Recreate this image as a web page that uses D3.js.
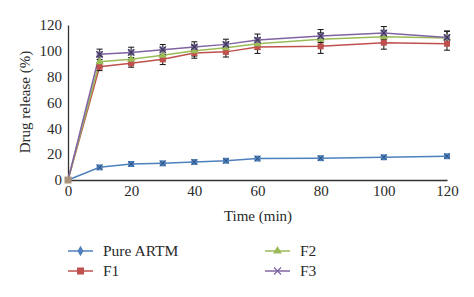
<!DOCTYPE html>
<html>
<head>
<meta charset="utf-8">
<script src="https://cdn.jsdelivr.net/npm/d3@7"></script>
<style>
  body { margin: 0; background: #fff; }
</style>
</head>
<body>
<script>
// Width and Height
const w = 474;
const h = 297;
const serif = "'Liberation Serif', 'Times New Roman', serif";

// data
const times = [0, 10, 20, 30, 40, 50, 60, 80, 100, 120];
const seriesNames = ["Pure ARTM", "F1", "F2", "F3"];
const pureArtm = [0, 9.8, 12.4, 12.9, 13.9, 14.9, 16.6, 16.9, 17.6, 18.4];
const f1 = [0, 87.7, 90.3, 93.4, 98.3, 99.2, 103, 103.5, 106.3, 105.5];
const f2 = [0, 91.5, 93.5, 96.5, 100, 102.3, 105.5, 108.9, 110.9, 110];
const f3 = [0, 97.3, 98.8, 100.9, 103, 105, 108.4, 111.5, 113.8, 110.4];
const errF1 = [0, 3, 3, 4, 4, 4, 5, 5.5, 5, 5];
const errF2 = [0, 4, 4, 4, 4, 4, 4.5, 5, 5, 5];
const errF3 = [0, 4, 4, 4, 4, 4, 4.6, 5, 5, 5];
const yTicks = [0, 20, 40, 60, 80, 100, 120];
const xTicks = [0, 20, 40, 60, 80, 100, 120];

const colors = ["#4F81BD", "#C0504D", "#9BBB59", "#8064A2"];

const series = [
  { name: seriesNames[0], values: pureArtm, err: null },
  { name: seriesNames[1], values: f1, err: errF1 },
  { name: seriesNames[2], values: f2, err: errF2 },
  { name: seriesNames[3], values: f3, err: errF3 }
];

// scales
const x = d3.scaleLinear().domain([0, 120]).range([68, 447]);
const y = d3.scaleLinear().domain([0, 120]).range([180, 25]);

const svg = d3.select("body").append("svg")
  .attr("width", w)
  .attr("height", h);

// axes
const yAxis = svg.append("g")
  .attr("transform", "translate(68,0)")
  .call(d3.axisLeft(y).tickValues(yTicks).tickSize(0).tickPadding(6))
  .attr("font-family", serif).attr("font-size", 15);
yAxis.select(".domain").attr("stroke", "#333").attr("stroke-width", 1.3);
yAxis.selectAll("text").style("font-family", serif).style("font-size", "15px").attr("fill", "#2a2a2a");

const xAxis = svg.append("g")
  .attr("transform", "translate(0,180)")
  .call(d3.axisBottom(x).tickValues(xTicks).tickSize(0).tickPadding(5))
  .attr("font-family", serif).attr("font-size", 15);
xAxis.select(".domain").attr("stroke", "#333").attr("stroke-width", 1.3);
xAxis.selectAll("text").style("font-family", serif).style("font-size", "15px").attr("fill", "#2a2a2a");

// axis titles
svg.append("text")
  .attr("x", 258).attr("y", 221)
  .attr("text-anchor", "middle")
  .style("font-family", serif).style("font-size", "15px").attr("fill", "#2a2a2a")
  .text("Time (min)");

svg.append("text")
  .attr("transform", "translate(30,102) rotate(-90)")
  .attr("text-anchor", "middle")
  .style("font-family", serif).style("font-size", "15px").attr("fill", "#2a2a2a")
  .text("Drug release (%)");

const line = d3.line()
  .x((d, i) => x(times[i]))
  .y(d => y(d));

// lines
series.forEach((s, k) => {
  svg.append("path")
    .datum(s.values)
    .attr("fill", "none")
    .attr("stroke", colors[k])
    .attr("stroke-width", 1.5)
    .attr("d", line);
});

// error bars
series.forEach((s, k) => {
  if (!s.err) return;
  const g = svg.append("g").attr("stroke", "#222").attr("stroke-width", 1.1);
  s.values.forEach((v, i) => {
    if (s.err[i] === 0) return;
    const cx = x(times[i]);
    const y1 = y(v + s.err[i]);
    const y2 = y(v - s.err[i]);
    g.append("line").attr("x1", cx).attr("x2", cx).attr("y1", y1).attr("y2", y2);
    g.append("line").attr("x1", cx - 3).attr("x2", cx + 3).attr("y1", y1).attr("y2", y1);
    g.append("line").attr("x1", cx - 3).attr("x2", cx + 3).attr("y1", y2).attr("y2", y2);
  });
});

// markers
function marker(g, k, cx, cy) {
  if (k === 0) {
    g.append("rect").attr("x", cx - 3).attr("y", cy - 3).attr("width", 6).attr("height", 6)
      .attr("fill", colors[0]);
    g.append("path").attr("d", d3.symbol().type(d3.symbolX).size(22)())
      .attr("transform", "translate(" + cx + "," + cy + ")")
      .attr("stroke", "#2c4f7c").attr("stroke-width", 1).attr("fill", "none");
  } else if (k === 1) {
    g.append("rect").attr("x", cx - 3).attr("y", cy - 3).attr("width", 6).attr("height", 6)
      .attr("fill", colors[1]);
  } else if (k === 2) {
    g.append("path").attr("d", d3.symbol().type(d3.symbolTriangle).size(30)())
      .attr("transform", "translate(" + cx + "," + cy + ")")
      .attr("fill", colors[2]);
  } else {
    g.append("rect").attr("x", cx - 3).attr("y", cy - 3).attr("width", 6).attr("height", 6)
      .attr("fill", "#7d6f9c").attr("opacity", 0.8);
    g.append("path").attr("d", d3.symbol().type(d3.symbolX).size(28)())
      .attr("transform", "translate(" + cx + "," + cy + ")")
      .attr("stroke", "#3d3560").attr("stroke-width", 1.2).attr("fill", "none");
  }
}

series.forEach((s, k) => {
  const g = svg.append("g");
  s.values.forEach((v, i) => {
    if (i === 0) return;
    marker(g, k, x(times[i]), y(v));
  });
});

// origin marker (all series overlap at 0)
svg.append("rect")
  .attr("x", x(0) - 3.5).attr("y", y(0) - 3.5).attr("width", 7).attr("height", 7)
  .attr("fill", "#a8927a");

// legend
const legendPos = [[68, 251], [68, 271], [265, 251], [265, 271]];
series.forEach((s, k) => {
  const [lx, ly] = legendPos[k];
  const g = svg.append("g").attr("transform", "translate(" + lx + "," + ly + ")");
  g.append("line").attr("x1", 0).attr("x2", 25).attr("y1", 0).attr("y2", 0)
    .attr("stroke", colors[k]).attr("stroke-width", 1.5);
  if (k === 0) {
    g.append("path").attr("d", d3.symbol().type(d3.symbolDiamond).size(32)())
      .attr("transform", "translate(12.5,0)").attr("fill", colors[0]);
  } else if (k === 1) {
    g.append("rect").attr("x", 9).attr("y", -3.5).attr("width", 7).attr("height", 7)
      .attr("fill", colors[1]);
  } else if (k === 2) {
    g.append("path").attr("d", d3.symbol().type(d3.symbolTriangle).size(34)())
      .attr("transform", "translate(12.5,0)").attr("fill", colors[2]);
  } else {
    g.append("path").attr("d", d3.symbol().type(d3.symbolX).size(34)())
      .attr("transform", "translate(12.5,0)")
      .attr("stroke", colors[3]).attr("stroke-width", 1.2).attr("fill", "none");
  }
  g.append("text").attr("x", 35).attr("y", 0).attr("dy", "0.35em")
    .style("font-family", serif).style("font-size", "15.5px").attr("fill", "#2a2a2a")
    .text(s.name);
});
</script>
</body>
</html>
